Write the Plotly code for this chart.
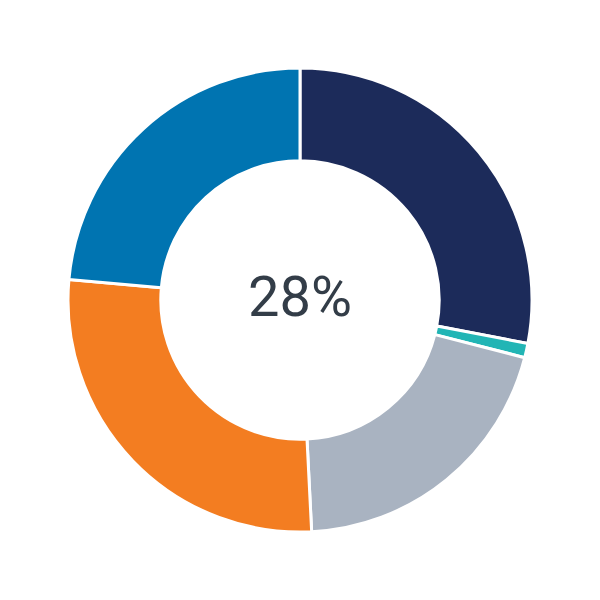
import plotly.graph_objects as go

labels = ["Navy", "Teal", "Gray", "Orange", "Blue"]
values = [28, 1, 20.2, 27.2, 23.6]
colors = ["#1c2b5a", "#22b5b5", "#a9b3c1", "#f37d21", "#0074b1"]
center_text = "28%"

fig = go.Figure()
fig.add_trace(go.Pie(
    labels=labels,
    values=values,
    hole=0.6,
    sort=False,
    direction="clockwise",
    rotation=0,
    textinfo="none",
    hoverinfo="label+percent",
    marker=dict(colors=colors, line=dict(color="white", width=3)),
    showlegend=False,
))

fig.add_annotation(
    text=center_text, x=0.5, y=0.5, xref="paper", yref="paper", yshift=3,
    showarrow=False, font=dict(family="Roboto", size=56, color="#333d48"),
)

# page body adds an 8px offset, so shift the pie back up/left
fig.update_layout(
    width=600, height=600,
    margin=dict(l=60, r=76, t=60, b=76),
    paper_bgcolor="white", plot_bgcolor="white",
)

fig.write_html("out.html")
